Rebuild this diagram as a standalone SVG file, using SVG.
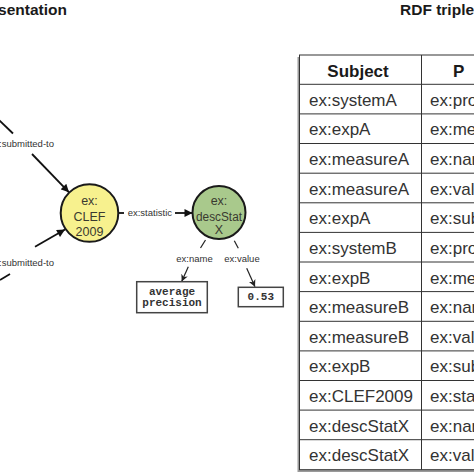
<svg xmlns="http://www.w3.org/2000/svg" width="474" height="474" viewBox="0 0 474 474">
<style>
  .title { font-family: "Liberation Sans", Arial, sans-serif; font-weight: bold; font-size: 15.5px; fill: #1a1a1a; }
  .edge { stroke: #111; stroke-width: 1.8; fill: none; }
  .edge-thin { stroke: #222; stroke-width: 1.2; fill: none; }
  .elabel { font-family: "Liberation Sans", Arial, sans-serif; font-size: 9.5px; fill: #333; }
  .ntext { font-family: "Liberation Sans", Arial, sans-serif; font-size: 12.5px; fill: #3a3a30; text-anchor: middle; }
  .lit { fill: #fff; stroke: #444; stroke-width: 1.5; }
  .littext { font-family: "Liberation Mono", "Courier New", monospace; font-weight: bold; font-size: 11px; fill: #333; text-anchor: middle; }
  .cell { font-family: "Liberation Sans", Arial, sans-serif; font-size: 17px; fill: #333; }
  .head { font-family: "Liberation Sans", Arial, sans-serif; font-size: 17px; font-weight: bold; fill: #1a1a1a; }
  .grid { stroke: #333; stroke-width: 1; }
</style>
<defs>
  <marker id="arr" viewBox="0 0 10 10" refX="10" refY="5" markerUnits="userSpaceOnUse" markerWidth="9" markerHeight="8" orient="auto">
    <path d="M0,0 L10,5 L0,10 z" fill="#111"/>
  </marker>
  <marker id="arrs" viewBox="0 0 10 10" refX="10" refY="5" markerUnits="userSpaceOnUse" markerWidth="7" markerHeight="7" orient="auto">
    <path d="M0,0 L10,5 L0,10 L3,5 z" fill="#222"/>
  </marker>
</defs>
<rect width="474" height="474" fill="#fff"/>

<text class="title" x="67" y="15" text-anchor="end">sentation</text>
<text class="title" x="400" y="15">RDF triple</text>

<g id="connectors">
  <line class="edge" x1="-2" y1="119" x2="13" y2="133.5"/>
  <text class="elabel" x="54" y="146.7" text-anchor="end">:submitted-to</text>
  <line class="edge" x1="32" y1="154" x2="69" y2="192.3" marker-end="url(#arr)"/>

  <line class="edge" x1="0" y1="280" x2="10" y2="274"/>
  <text class="elabel" x="54" y="265.7" text-anchor="end">:submitted-to</text>
  <line class="edge" x1="35" y1="246.7" x2="65" y2="229.5" marker-end="url(#arr)"/>

  <line class="edge" x1="118.3" y1="213" x2="124" y2="213"/>
  <text class="elabel" x="127.7" y="216.3">ex:statistic</text>
  <line class="edge" x1="175" y1="213" x2="192.5" y2="213" marker-end="url(#arr)"/>

  <line class="edge-thin" x1="205.5" y1="240" x2="200.5" y2="248"/>
  <text class="elabel" x="194.5" y="261.7" text-anchor="middle">ex:name</text>
  <line class="edge-thin" x1="188.3" y1="266.7" x2="181.7" y2="281.5" marker-end="url(#arrs)"/>

  <line class="edge-thin" x1="234.3" y1="240.7" x2="238.3" y2="248.3"/>
  <text class="elabel" x="242" y="261.7" text-anchor="middle">ex:value</text>
  <line class="edge-thin" x1="246.7" y1="268.3" x2="255" y2="286.8" marker-end="url(#arrs)"/>
</g>

<g id="node-clef">
  <circle cx="89.5" cy="213" r="28.8" fill="#f7f18e" stroke="#1a1a1a" stroke-width="2"/>
  <text class="ntext" x="89.5" y="205">ex:</text>
  <text class="ntext" x="89.5" y="220.7">CLEF</text>
  <text class="ntext" x="89.5" y="236">2009</text>
</g>

<g id="node-descstat">
  <circle cx="219" cy="212.5" r="26.5" fill="#a9c98c" stroke="#1a1a1a" stroke-width="2"/>
  <text class="ntext" x="219" y="205">ex:</text>
  <text class="ntext" x="219" y="220.5" textLength="46" lengthAdjust="spacingAndGlyphs">descStat</text>
  <text class="ntext" x="219" y="233.5">X</text>
</g>

<g id="node-avgprec">
  <rect class="lit" x="136.7" y="281.7" width="70.6" height="31"/>
  <text class="littext" x="172" y="294.5">average</text>
  <text class="littext" x="172" y="306.3">precision</text>
</g>

<g id="node-value">
  <rect class="lit" x="238.3" y="287.3" width="45" height="19.4"/>
  <text class="littext" x="260.8" y="299.7">0.53</text>
</g>

<g id="rdf-table">
  <rect x="297.5" y="57" width="200" height="415" fill="#9a9a9a"/>
  <rect x="299.5" y="55" width="200" height="414.7" fill="#fff" stroke="#333" stroke-width="1"/>
  <line class="grid" x1="421.5" y1="55" x2="421.5" y2="469.7"/>
  <line class="grid" x1="299.5" y1="84.3" x2="474" y2="84.3"/>
  <line class="grid" x1="299.5" y1="113.9" x2="474" y2="113.9"/>
  <line class="grid" x1="299.5" y1="143.5" x2="474" y2="143.5"/>
  <line class="grid" x1="299.5" y1="173.2" x2="474" y2="173.2"/>
  <line class="grid" x1="299.5" y1="202.8" x2="474" y2="202.8"/>
  <line class="grid" x1="299.5" y1="232.4" x2="474" y2="232.4"/>
  <line class="grid" x1="299.5" y1="262.0" x2="474" y2="262.0"/>
  <line class="grid" x1="299.5" y1="291.6" x2="474" y2="291.6"/>
  <line class="grid" x1="299.5" y1="321.3" x2="474" y2="321.3"/>
  <line class="grid" x1="299.5" y1="350.9" x2="474" y2="350.9"/>
  <line class="grid" x1="299.5" y1="380.5" x2="474" y2="380.5"/>
  <line class="grid" x1="299.5" y1="410.1" x2="474" y2="410.1"/>
  <line class="grid" x1="299.5" y1="439.7" x2="474" y2="439.7"/>

  <text class="head" x="358" y="76.7" text-anchor="middle">Subject</text>
  <text class="head" x="453" y="76.7">P</text>

  <text class="cell" x="309" y="105.8">ex:systemA</text>
  <text class="cell" x="309" y="135.4">ex:expA</text>
  <text class="cell" x="309" y="165.0">ex:measureA</text>
  <text class="cell" x="309" y="194.7">ex:measureA</text>
  <text class="cell" x="309" y="224.3">ex:expA</text>
  <text class="cell" x="309" y="253.9">ex:systemB</text>
  <text class="cell" x="309" y="283.5">ex:expB</text>
  <text class="cell" x="309" y="313.1">ex:measureB</text>
  <text class="cell" x="309" y="342.8">ex:measureB</text>
  <text class="cell" x="309" y="372.4">ex:expB</text>
  <text class="cell" x="309" y="402.0">ex:CLEF2009</text>
  <text class="cell" x="309" y="431.6">ex:descStatX</text>
  <text class="cell" x="309" y="461.2">ex:descStatX</text>

  <text class="cell" x="430" y="105.8">ex:pro</text>
  <text class="cell" x="430" y="135.4">ex:me</text>
  <text class="cell" x="430" y="165.0">ex:nam</text>
  <text class="cell" x="430" y="194.7">ex:val</text>
  <text class="cell" x="430" y="224.3">ex:sub</text>
  <text class="cell" x="430" y="253.9">ex:pro</text>
  <text class="cell" x="430" y="283.5">ex:me</text>
  <text class="cell" x="430" y="313.1">ex:nam</text>
  <text class="cell" x="430" y="342.8">ex:val</text>
  <text class="cell" x="430" y="372.4">ex:sub</text>
  <text class="cell" x="430" y="402.0">ex:sta</text>
  <text class="cell" x="430" y="431.6">ex:nam</text>
  <text class="cell" x="430" y="461.2">ex:val</text>
</g>
</svg>
